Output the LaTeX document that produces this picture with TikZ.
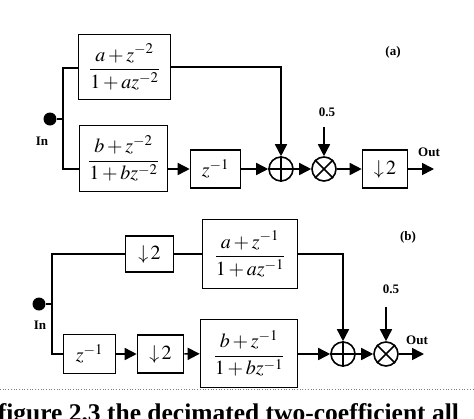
\documentclass[tikz,border=0pt]{standalone}
\usepackage{mathptmx}
\usepackage{fontspec}
\setmainfont{Liberation Serif}
\usetikzlibrary{arrows.meta}
\newcommand{\dfr}[2]{{\displaystyle\frac{#1}{#2}}}
\begin{document}
\begin{tikzpicture}[x=1pt,y=-1pt,line width=1.6pt,
  sig/.style={-{Triangle[length=12pt,width=12pt]}},
  blk/.style={draw,line width=1.6pt,inner sep=0pt,font=\fontsize{20}{24}\selectfont},
  junc/.style={circle,fill,inner sep=0pt,minimum size=13pt},
  opnode/.style={draw,circle,minimum size=24pt,inner sep=0pt,line width=1.6pt},
  lbl/.style={font=\bfseries\fontsize{13}{15}\selectfont,inner sep=0pt},
]
\useasboundingbox (0,0) rectangle (474,418);

% ---------- (a) ----------
\node[junc] (dotA) at (50,119) {};
\node[lbl] (inA) at (42,141) {In};
\coordinate (jA) at (63,119);
\coordinate (tA) at (63,68);
\coordinate (bA) at (63,169);
\node[blk,minimum width=92pt,minimum height=65pt] (fA1) at (124.5,67)
  {$\dfr{a+z^{-2}}{1+az^{-2}}$};
\node[blk,minimum width=88pt,minimum height=66pt] (fA2) at (123.5,158.5)
  {$\dfr{b+z^{-2}}{1+bz^{-2}}$};
\node[blk,minimum width=50pt,minimum height=38pt] (zA) at (215.5,169) {$z^{-1}$};
\node[opnode] (addA) at (281,169) {};
\node[opnode] (mulA) at (324,169) {};
\node[blk,minimum width=45pt,minimum height=38pt] (decA) at (385,169) {$\downarrow\!2$};
\coordinate (hA) at (324,127);
\node[lbl] (halfA) at (327,112) {0.5};
\coordinate (oA) at (434,169);
\node[lbl] (outA) at (429,152) {Out};
\node[lbl] (labA) at (393,52) {(a)};

\draw (dotA) -- (jA);
\draw (fA1.west |- tA) -- (tA) -- (bA) -- (fA2.west |- bA);
\draw[sig] (fA2.east |- bA) -- (zA);
\draw[sig] (zA) -- (addA);
\draw[sig] (fA1.east) -| (addA.north);
\draw[sig] (addA) -- (mulA);
\draw[sig] (hA) -- (mulA);
\draw[sig] (mulA) -- (decA);
\draw[sig] (decA) -- (oA);
\draw (addA.north) -- (addA.south) (addA.west) -- (addA.east);
\draw (mulA.north west) -- (mulA.south east) (mulA.north east) -- (mulA.south west);

% ---------- (b) ----------
\node[junc] (dotB) at (39,304) {};
\node[lbl] (inB) at (40,325) {In};
\coordinate (jB) at (52,304);
\coordinate (tB) at (52,254);
\coordinate (bB) at (52,354);
\node[blk,minimum width=48pt,minimum height=36pt] (decB1) at (149.5,254) {$\downarrow\!2$};
\node[blk,minimum width=95pt,minimum height=69pt] (fB1) at (250,254)
  {$\dfr{a+z^{-1}}{1+az^{-1}}$};
\node[blk,minimum width=52pt,minimum height=39pt] (zB) at (89.5,354) {$z^{-1}$};
\node[blk,minimum width=46pt,minimum height=38pt] (decB2) at (160.5,354) {$\downarrow\!2$};
\node[blk,minimum width=97pt,minimum height=68pt] (fB2) at (249,353.5)
  {$\dfr{b+z^{-1}}{1+bz^{-1}}$};
\node[opnode] (addB) at (343,354) {};
\node[opnode] (mulB) at (386,354) {};
\coordinate (hB) at (386,307);
\node[lbl] (halfB) at (391,289) {0.5};
\coordinate (oB) at (424,354);
\node[lbl] (outB) at (417,340) {Out};
\node[lbl] (labB) at (408,237) {(b)};

\draw (dotB) -- (jB);
\draw (decB1.west) -- (tB) -- (bB) -- (zB.west);
\draw (decB1) -- (fB1);
\draw[sig] (fB1.east) -| (addB.north);
\draw[sig] (zB) -- (decB2);
\draw[sig] (decB2) -- (fB2);
\draw[sig] (fB2.east |- addB) -- (addB);
\draw[sig] (addB) -- (mulB);
\draw[sig] (hB) -- (mulB);
\draw[sig] (mulB) -- (oB);
\draw (addB.north) -- (addB.south) (addB.west) -- (addB.east);
\draw (mulB.north west) -- (mulB.south east) (mulB.north east) -- (mulB.south west);

% ---------- rule and caption ----------
\draw[gray,dotted,line width=0.7pt] (0,389) -- (474,389);
\node[anchor=base west,inner sep=0pt,font=\bfseries\fontsize{25.5}{30}\selectfont] (cap) at (-3,421)
  {figure 2.3 the decimated two-coefficient all};
\end{tikzpicture}
\end{document}
